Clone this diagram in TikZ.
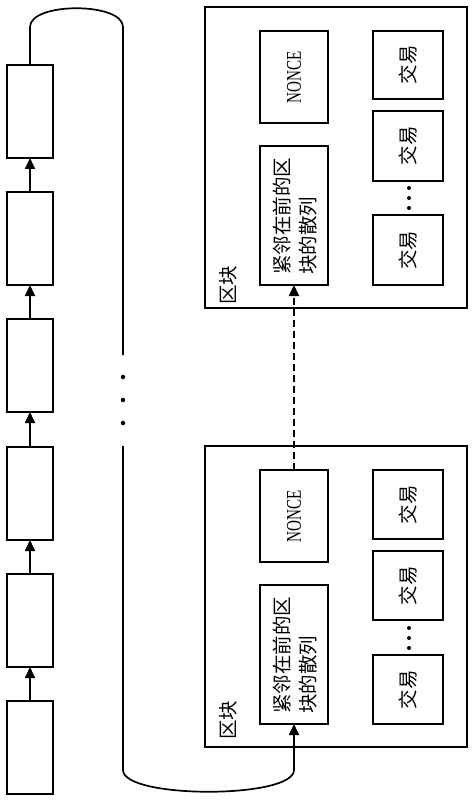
\documentclass[tikz,border=0pt]{standalone}
\usepackage{fontspec}
\setmainfont{Liberation Serif}
\newfontfamily\cjk{Noto Sans CJK SC}
\usetikzlibrary{arrows.meta}
\begin{document}
\begin{tikzpicture}[x=1pt,y=-1pt,
  every node/.style={inner sep=0pt, outer sep=0pt},
  line/.style={line width=1.7pt, line join=round},
  chainbox/.style={draw, line width=1.7pt, minimum width=46pt, minimum height=93pt},
  blockbox/.style={draw, line width=1.7pt, minimum width=262pt, minimum height=301pt},
  innerbox/.style={draw, line width=1.7pt, minimum width=68pt},
  txbox/.style={draw, line width=1.7pt, minimum width=70pt},
  cjktext/.style={rotate=90, font=\cjk\fontsize{19.5}{26}\selectfont},
  tip/.style={-{Triangle[length=11pt,width=10pt]}},
  dotmark/.style={fill, circle, minimum size=4.5pt}
]
\useasboundingbox (0,0) rectangle (474,802);

% chain of blocks on the left
\node[chainbox] (c1) at (30,111.5) {};
\node[chainbox] (c2) at (30,238.5) {};
\node[chainbox] (c3) at (30,365.5) {};
\node[chainbox] (c4) at (30,493.5) {};
\node[chainbox] (c5) at (30,620.5) {};
\node[chainbox] (c6) at (30,747.5) {};
\draw[line,tip] (c2.north) -- (c1.south);
\draw[line,tip] (c3.north) -- (c2.south);
\draw[line,tip] (c4.north) -- (c3.south);
\draw[line,tip] (c5.north) -- (c4.south);
\draw[line,tip] (c6.north) -- (c5.south);

% loop
\coordinate (lupA) at (30,27);
\coordinate (lupB) at (123,27);
\coordinate (lmidA) at (123,355);
\coordinate (lmidB) at (123,446);
\coordinate (lbotA) at (123,770);
\coordinate (lbotB) at (294,770);
\node[dotmark] (d1) at (123,377) {};
\node[dotmark] (d2) at (123,400) {};
\node[dotmark] (d3) at (123,423) {};

% top block
\node[blockbox] (B1) at (336,157.5) {};
\node[innerbox, minimum height=92pt] (n1) at (294,77) {};
\node[rotate=90] (n1t) at (n1) {\fontsize{21}{24}\selectfont\scalebox{0.72}[1]{NONCE}};
\node[innerbox, minimum height=139pt] (h1) at (294,215.5) {};
\node[cjktext, align=left] (h1t) at (295,216) {紧邻在前的区\\块的散列};
\node[txbox, minimum height=68pt] (t11) at (408,65) {};
\node[txbox, minimum height=70pt] (t12) at (408,146) {};
\node[txbox, minimum height=70pt] (t13) at (408,250) {};
\node[cjktext] (t11t) at (t11) {交易};
\node[cjktext] (t12t) at (t12) {交易};
\node[cjktext] (t13t) at (t13) {交易};
\node[dotmark, minimum size=4pt] (e11) at (409,188) {};
\node[dotmark, minimum size=4pt] (e12) at (409,198) {};
\node[dotmark, minimum size=4pt] (e13) at (409,208) {};
\node[cjktext] (L1) at (228,285) {区块};

% bottom block
\node[blockbox] (B2) at (336,596.5) {};
\node[innerbox, minimum height=92pt] (n2) at (294,516) {};
\node[rotate=90] (n2t) at (n2) {\fontsize{21}{24}\selectfont\scalebox{0.72}[1]{NONCE}};
\node[innerbox, minimum height=139pt] (h2) at (294,654.5) {};
\node[cjktext, align=left] (h2t) at (295,655) {紧邻在前的区\\块的散列};
\node[txbox, minimum height=69pt] (t21) at (408,504.5) {};
\node[txbox, minimum height=69pt] (t22) at (408,585.5) {};
\node[txbox, minimum height=69pt] (t23) at (408,689.5) {};
\node[cjktext] (t21t) at (t21) {交易};
\node[cjktext] (t22t) at (t22) {交易};
\node[cjktext] (t23t) at (t23) {交易};
\node[dotmark, minimum size=4pt] (e21) at (409,628) {};
\node[dotmark, minimum size=4pt] (e22) at (409,638) {};
\node[dotmark, minimum size=4pt] (e23) at (409,648) {};
\node[cjktext] (L2) at (228,720) {区块};

% loop connectors
\draw[line] (c1.north) -- (lupA) .. controls (30,2) and (123,2) .. (lupB) -- (lmidA);
\draw[line,tip] (lmidB) -- (lbotA) .. controls (123,799) and (294,799) .. (lbotB) -- (h2.south);

% dashed link between blocks
\draw[line,tip,dash pattern=on 7pt off 4pt] (n2.north) -- (h1.south);
\end{tikzpicture}
\end{document}
